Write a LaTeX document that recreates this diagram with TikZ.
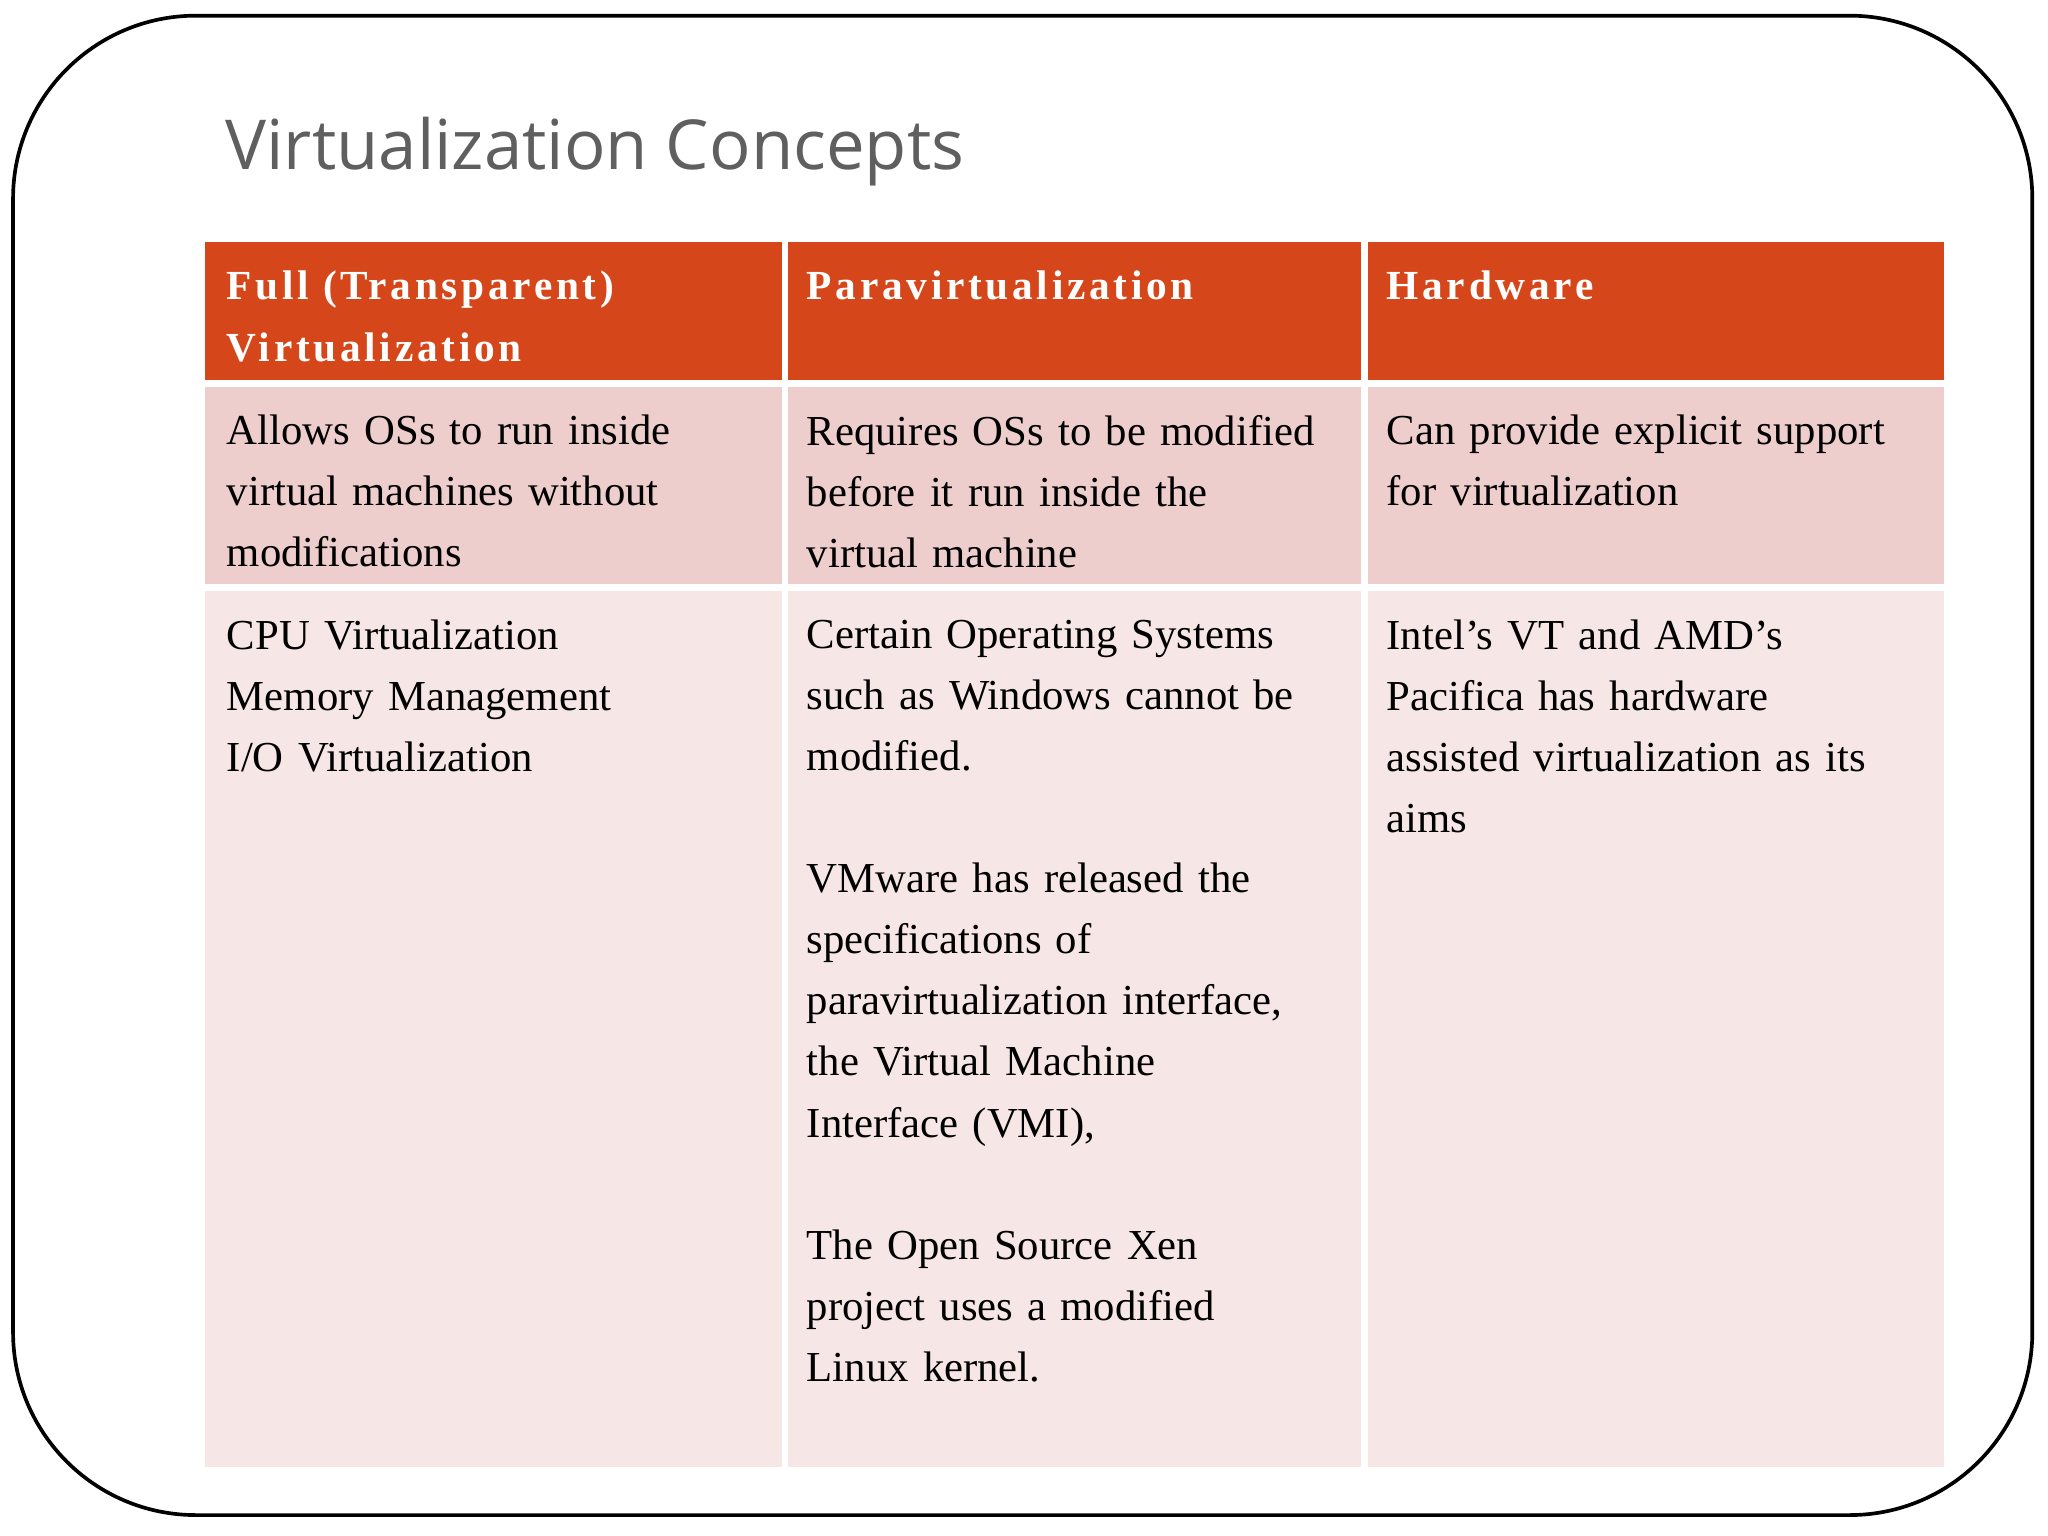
\documentclass[tikz,border=0pt]{standalone}
\usepackage{fontspec}
\setmainfont{Liberation Serif}
\newfontfamily\titlefont{Open Sans}
\newfontfamily\headfont[LetterSpace=9]{Liberation Serif}
\definecolor{hdr}{RGB}{213,71,26}
\definecolor{rowa}{RGB}{238,205,205}
\definecolor{rowb}{RGB}{246,230,230}
\definecolor{ttl}{RGB}{95,95,95}
\tikzset{
  cell/.style={anchor=north west,inner sep=0pt,align=left,text width=4.2cm,font=\fontsize{9.3pt}{13.3pt}\selectfont},
  hcell/.style={cell,text=white,font=\headfont\bfseries\fontsize{9pt}{13.3pt}\selectfont}
}
\begin{document}
\begin{tikzpicture}[x=0.01cm,y=-0.01cm]
\useasboundingbox (0,0) rectangle (1568,1176);
\fill[white] (0,0) rectangle (1568,1176);
\draw[line width=0.8pt,rounded corners=1.4cm] (10,12) rectangle (1556,1160);
\node[anchor=base west,inner sep=0pt,text=ttl,font=\titlefont\fontsize{15pt}{18pt}\selectfont] (title) at (172,130) {Virtualization Concepts};
% backgrounds
\fill[hdr] (157,185) rectangle (1488,291);
\fill[rowa] (157,296) rectangle (1488,449);
\fill[rowb] (157,451) rectangle (1488,1123);
\draw[white,line width=1.5pt] (601,185) -- (601,1123) (1045,185) -- (1045,1123);
\draw[white,line width=1.5pt] (157,293.5) -- (1488,293.5) (157,450) -- (1488,450);
% header
\node[hcell] (h1) at (173,207) {Full (Transparent)\\Virtualization};
\node[hcell] (h2) at (617,207) {Paravirtualization};
\node[hcell] (h3) at (1061,207) {Hardware};
% row 2
\node[cell] (a1) at (173,317) {Allows OSs to run inside\\virtual machines without\\modifications};
\node[cell] (a2) at (617,317) {Requires OSs to be modified\\before it run inside the\\virtual machine};
\node[cell] (a3) at (1061,317) {Can provide explicit support\\for virtualization};
% row 3
\node[cell] (b1) at (173,474) {CPU Virtualization\\Memory Management\\I/O Virtualization};
\node[cell] (b2) at (617,474) {Certain Operating Systems\\such as Windows cannot be\\modified.\\[13.3pt]VMware has released the\\specifications of\\paravirtualization interface,\\the Virtual Machine\\Interface (VMI),\\[13.3pt]The Open Source Xen\\project uses a modified\\Linux kernel.};
\node[cell] (b3) at (1061,474) {Intel’s VT and AMD’s\\Pacifica has hardware\\assisted virtualization as its\\aims};
\end{tikzpicture}
\end{document}
